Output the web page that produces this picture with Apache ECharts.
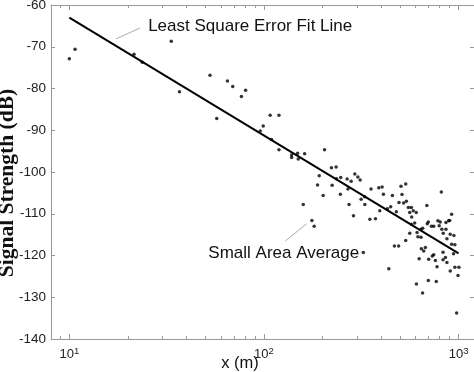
<!DOCTYPE html>
<html><head><meta charset="utf-8">
<script src="https://cdn.jsdelivr.net/npm/echarts@6/dist/echarts.min.js"></script>
<style>html,body{margin:0;padding:0;background:#fff}#c{width:474px;height:372px}</style>
</head><body><div id="c"></div>
<script>
// distance x (m) of each small-area-average point
const distances = [
  10, 10.7, 21.5, 23.7, 33.4, 36.8, 52.8, 57.2, 64.9, 69.1,
  76.6, 80.5, 107.6, 119.4, 99.1, 95.7, 109.4, 119.4, 138.7, 138.7,
  148.9, 150, 161.8, 204.8, 222.2, 234.8, 192.3, 188.5, 224, 236,
  248, 267.5, 280.5, 293, 303.7, 312, 270, 355, 389, 404.6,
  506, 535, 159.2, 201.4, 176.3, 181.1, 247, 273.6, 288.4, 315.6,
  329.7, 329, 350, 374, 393.6, 411, 431, 448, 457, 479,
  468, 492, 438, 494, 512, 522, 539, 552, 535, 561,
  572, 561, 585, 606, 574, 572, 595, 618, 612, 641,
  641, 654, 687, 690, 644, 662, 627, 675, 699, 725,
  745, 702, 733, 760, 775, 745, 607, 653, 699, 768,
  783, 805, 795, 815, 820, 834, 861, 861, 871, 832,
  856, 871, 832, 889, 921, 900, 906, 946, 921, 957,
  906, 957, 1004, 993, 977, 942, 324
];
// signal strength (dB) of each point
const signal = [
  -72.9, -70.6, -71.8, -73.7, -68.7, -80.8, -76.8, -87.2, -78.2, -79.5,
  -81.9, -80.4, -86.4, -86.4, -89.0, -90.2, -92.2, -94.7, -95.9, -96.5,
  -95.5, -96.9, -95.6, -94.7, -99.0, -98.8, -100.9, -103.1, -103.2, -101.6,
  -101.3, -101.7, -102.2, -100.5, -101.2, -101.9, -104.1, -104.1, -103.8, -103.6,
  -103.4, -102.9, -107.8, -105.6, -111.6, -113.0, -105.3, -107.8, -110.5, -106.5,
  -107.8, -105.9, -111.3, -111.2, -109.3, -105.3, -108.8, -108.3, -105.6, -109.5,
  -117.7, -117.7, -123.2, -107.3, -105.4, -107.4, -107.0, -108.5, -116.4, -109.7,
  -108.5, -114.7, -109.3, -109.7, -110.8, -112.5, -112.2, -115.5, -114.5, -115.6,
  -113.7, -113.5, -108.0, -112.4, -118.4, -118.9, -120.8, -118.1, -112.0, -113.0,
  -113.0, -120.9, -120.1, -121.2, -122.7, -119.8, -126.8, -129.0, -126.0, -126.2,
  -111.7, -112.0, -112.9, -104.8, -113.7, -114.7, -112.1, -113.7, -116.0, -119.2,
  -120.5, -121.7, -121.0, -111.7, -110.1, -111.6, -114.9, -115.2, -117.3, -117.4,
  -123.7, -122.8, -122.8, -124.8, -133.8, -119.6, -119.3
];
// least square error fit line end points
const fitX = [10, 1000];
const fitY = [-63.0, -119.5];
// axis ticks
const xMajorTicks = [10, 100, 1000];
const xTickExponents = ['1', '2', '3'];
const xMinorTicks = [8, 9, 20, 30, 40, 50, 60, 70, 80, 90, 200, 300, 400, 500, 600, 700, 800, 900];
const yTickLabels = ['-140', '-130', '-120', '-110', '-100', '-90', '-80', '-70', '-60'];
// annotation texts and anchor points (data space)
const annoTexts = ['Least Square Error Fit Line', 'Small Area Average'];
const annoTextAt = [[25.4, -65.0], [51.8, -119.4]];
const annoLineFrom = [[17.4, -68.1], [129, -116.5]];
const annoLineTo = [[23.1, -65.5], [165.6, -112.4]];

const SANS = '"Liberation Sans", Arial, sans-serif';
const FRAME = '#9a9a9a';
const X_MIN = 8.05, X_MAX = 1200;

const chart = echarts.init(document.getElementById('c'), null, {renderer: 'canvas'});

function xAx(pos, ticks, len, showLine, labels) {
  const ax = {
    type: 'log', logBase: 10, min: X_MIN, max: X_MAX, position: pos,
    axisLine: {show: showLine, onZero: false, lineStyle: {color: FRAME, width: 1}},
    axisTick: {show: true, inside: true, length: len, customValues: ticks, lineStyle: {color: FRAME, width: 1}},
    axisLabel: {show: false},
    splitLine: {show: false}, minorTick: {show: false}
  };
  if (labels) {
    ax.axisLabel = {
      show: true, customValues: xMajorTicks, margin: 7, color: '#222',
      formatter: function (v) {
        const i = xMajorTicks.indexOf(Math.round(v));
        return '{b|10}{s|' + (i >= 0 ? xTickExponents[i] : '') + '}';
      },
      rich: {
        b: {fontSize: 13, fontFamily: SANS, color: '#222', lineHeight: 15, verticalAlign: 'bottom'},
        s: {fontSize: 9.5, fontFamily: SANS, color: '#222', lineHeight: 15, verticalAlign: 'top'}
      }
    };
    ax.name = 'x (m)';
    ax.nameLocation = 'middle';
    ax.nameGap = 16;
    ax.nameMoveOverlap = false;
    ax.nameTextStyle = {fontSize: 16.5, fontFamily: SANS, color: '#111', padding: [0, 45, 0, 0]};
  }
  return ax;
}

function yAx(pos, labels) {
  const ax = {
    type: 'value', min: -140, max: -60, interval: 10, position: pos,
    axisLine: {show: true, onZero: false, lineStyle: {color: FRAME, width: 1}},
    axisTick: {show: true, inside: true, length: 4, lineStyle: {color: FRAME, width: 1}},
    axisLabel: {show: false},
    splitLine: {show: false}
  };
  if (labels) {
    ax.axisLabel = {
      show: true, margin: 5, color: '#222', fontSize: 13.5, fontFamily: SANS,
      formatter: function (v) { return yTickLabels[Math.round((v + 140) / 10)]; }
    };
    ax.name = 'Signal Strength (dB)';
    ax.nameLocation = 'middle';
    ax.nameRotate = 90;
    ax.nameGap = 33;
    ax.nameMoveOverlap = false;
    ax.nameTextStyle = {fontSize: 21.5, fontWeight: 'bold', fontFamily: '"Liberation Serif", "Times New Roman", serif', color: '#111', padding: [0, 22, 0, 0]};
  }
  return ax;
}

chart.setOption({
  animation: false,
  backgroundColor: '#fff',
  grid: {left: 51, right: 0, top: 5, bottom: 33, containLabel: false, outerBoundsMode: 'none'},
  xAxis: [
    xAx('bottom', xMajorTicks, 5, true, true),
    xAx('bottom', xMinorTicks, 3, false, false),
    xAx('top', xMajorTicks, 5, true, false),
    xAx('top', xMinorTicks, 3, false, false)
  ],
  yAxis: [yAx('left', true), yAx('right', false)],
  series: [
    {
      type: 'scatter', xAxisIndex: 0, yAxisIndex: 0,
      symbol: 'circle', symbolSize: 3.5,
      itemStyle: {color: '#000'},
      data: distances.map((d, i) => [d, signal[i]])
    },
    {
      type: 'line', xAxisIndex: 0, yAxisIndex: 0,
      showSymbol: false, symbol: 'none',
      lineStyle: {color: '#000', width: 2},
      data: fitX.map((d, i) => [d, fitY[i]])
    }
  ]
});

const graphics = [];
annoTexts.forEach((t, i) => {
  const p = chart.convertToPixel({xAxisIndex: 0, yAxisIndex: 0}, annoTextAt[i]);
  const a = chart.convertToPixel({xAxisIndex: 0, yAxisIndex: 0}, annoLineFrom[i]);
  const b = chart.convertToPixel({xAxisIndex: 0, yAxisIndex: 0}, annoLineTo[i]);
  graphics.push({
    type: 'text', x: p[0], y: p[1],
    style: {text: t, fill: '#111', font: '17px ' + SANS, textAlign: 'left', textVerticalAlign: 'middle'}
  });
  graphics.push({
    type: 'line', shape: {x1: a[0], y1: a[1], x2: b[0], y2: b[1]},
    style: {stroke: '#aaa', lineWidth: 1}
  });
});
chart.setOption({graphic: graphics});
</script>
</body></html>
